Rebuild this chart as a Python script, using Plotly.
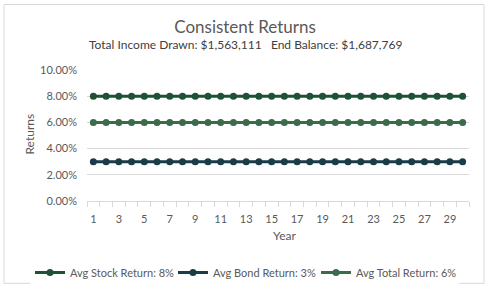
import plotly.graph_objects as go

years = list(range(1, 31))
stock = [0.08] * 30
bond = [0.03] * 30
total = [0.06] * 30
names = ["Avg Stock Return: 8%", "Avg Bond Return: 3%", "Avg Total Return: 6%"]
colors = ["#1E5234", "#1A3C48", "#3B6B4A"]
title = "Consistent Returns"
subtitle = "Total Income Drawn: $1,563,111   End Balance: $1,687,769"

FONT = "Lato"
GRAY = "#595959"

fig = go.Figure()
for vals, name, col in zip([stock, bond, total], names, colors):
    fig.add_trace(go.Scatter(
        x=years, y=vals, name=name, mode="lines+markers",
        line=dict(color=col, width=3),
        marker=dict(color=col, size=7),
    ))

L, R, T, B = 87, 21, 70, 95
W, H = 490, 297
pw = W - L - R
ph = H - T - B

def px(x):
    return (x - L) / pw

def py(y):
    return (H - B - y) / ph

fig.update_layout(
    width=W, height=H,
    margin=dict(l=L, r=R, t=T, b=B),
    paper_bgcolor="white", plot_bgcolor="white",
    font=dict(family=FONT, color=GRAY, size=11),
    title=dict(text=title, x=0.5, xanchor="center", y=1 - 27 / H, yanchor="middle",
               font=dict(size=17, color=GRAY, family=FONT)),
    showlegend=True,
    legend=dict(orientation="h", xref="paper", x=px(30), xanchor="left",
                yref="paper", y=py(272.5), yanchor="middle",
                entrywidth=98, entrywidthmode="pixels",
                font=dict(size=11, color=GRAY), itemwidth=30, tracegroupgap=0),
    xaxis=dict(range=[0.5, 30.5], tickmode="array", tickvals=list(range(1, 31, 2)),
               ticks="", showgrid=False, zeroline=False,
               showline=True, linecolor="#d9d9d9", linewidth=1,
               tickfont=dict(size=11, color=GRAY), ticklabelstandoff=8,
               minor=dict(tickmode="linear", tick0=0.5, dtick=1, ticks="outside",
                          ticklen=5, tickcolor="#d9d9d9", tickwidth=1, showgrid=False),
               fixedrange=True),
    yaxis=dict(range=[0, 0.10], dtick=0.02, tickformat=".2%",
               showgrid=True, gridcolor="#d9d9d9", gridwidth=1, zeroline=False,
               ticks="", tickfont=dict(size=11, color=GRAY), ticklabelstandoff=9,
               fixedrange=True),
    annotations=[
        dict(text=subtitle, x=0.5 + (245 - (L + pw / 2)) / pw, y=py(44), xref="paper", yref="paper",
             showarrow=False, font=dict(size=12, color="#404040"), xanchor="center", yanchor="middle"),
        dict(text="Returns", x=px(30), y=py(135), xref="paper", yref="paper", textangle=-90,
             showarrow=False, font=dict(size=12, color=GRAY), xanchor="center", yanchor="middle"),
        dict(text="Year", x=px(284), y=py(237), xref="paper", yref="paper",
             showarrow=False, font=dict(size=12, color=GRAY), xanchor="center", yanchor="middle"),
    ],
    shapes=[
        dict(type="rect", xref="paper", yref="paper", x0=px(4), x1=px(484), y0=py(285), y1=py(4),
             line=dict(color="#d9d9d9", width=1), fillcolor="rgba(0,0,0,0)", layer="below"),
    ],
)

fig.write_html("out.html")
